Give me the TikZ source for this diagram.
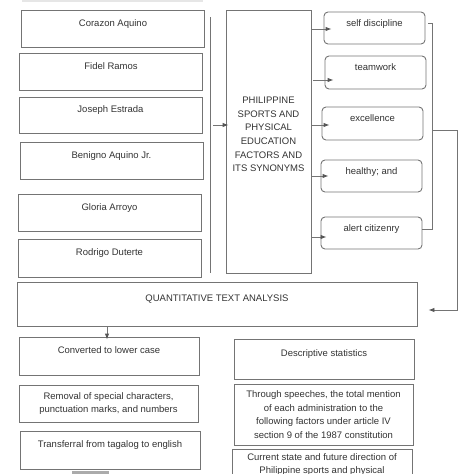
\documentclass[tikz,border=0pt]{standalone}
\usepackage{fontspec}
\setmainfont{Liberation Sans}
\usetikzlibrary{arrows.meta, positioning, calc}
\definecolor{lineGray}{HTML}{747474}
\definecolor{textGray}{HTML}{333333}
\definecolor{tipGray}{HTML}{555555}
\definecolor{barGray}{HTML}{E6E6E6}
\definecolor{stubGray}{HTML}{ABABAB}

\begin{document}
\begin{tikzpicture}[x=1pt, y=-1pt,
    box/.style={rectangle, draw=lineGray, line width=0.9pt, minimum width=#1,
                font=\fontsize{9.5}{13.6}\selectfont\color{textGray}, align=center, inner sep=2pt},
    box/.default=183pt,
    topbox/.style={box=#1, text height=7pt, text depth=11.4pt},
    topbox/.default=183pt,
    tag/.style={box=101pt, rounded corners=4pt, text height=7pt, text depth=10.4pt},
    arr/.style={draw=lineGray, line width=0.9pt, -{Latex[length=6pt, width=4.5pt, color=tipGray]}},
    ln/.style={draw=lineGray, line width=0.9pt},
  ]
    \useasboundingbox (0,0) rectangle (474,474);
    \clip (0,0) rectangle (474,474);

    \fill[barGray] (22,-3) rectangle (203,2);
    \fill[stubGray] (72,471) rectangle (109,480);

    \node[topbox, minimum height=37pt] (p1) at (113,28.5)   {Corazon Aquino};
    \node[topbox, minimum height=37pt] (p2) at (111,71.5)   {Fidel Ramos};
    \node[topbox, minimum height=36pt] (p3) at (110.5,115)  {Joseph Estrada};
    \node[topbox, minimum height=37pt] (p4) at (111.5,160.5) {Benigno Aquino Jr.};
    \node[topbox, minimum height=37pt] (p5) at (109.5,212.5) {Gloria Arroyo};
    \node[topbox, minimum height=38pt] (p6) at (109.5,258)  {Rodrigo Duterte};

    \node[box=85pt, minimum height=263pt, text depth=14pt] (fac) at (268.5,141.5)
      {PHILIPPINE\\SPORTS AND\\PHYSICAL\\EDUCATION\\FACTORS AND\\ITS SYNONYMS};

    \node[tag, minimum height=32pt] (t1) at (374.5,28)   {self discipline};
    \node[tag, minimum height=33pt] (t2) at (375.5,72.5) {teamwork};
    \node[tag, minimum height=33pt] (t3) at (372.5,123.5) {excellence};
    \node[tag, minimum height=32pt] (t4) at (371.5,176)  {healthy; and};
    \node[tag, minimum height=32pt] (t5) at (371.5,233)  {alert citizenry};

    \draw[ln] (210,17) -- (210,273);
    \coordinate (bar) at (210,125);
    \draw[arr] ($(bar)+(3,0)$) -- ($(fac.west |- bar)+(3,0)$);

    \coordinate (e1) at ($(t1.west)+(8,1)$);
    \coordinate (e2) at ($(t2.west)+(9,7.5)$);
    \coordinate (e3) at ($(t3.west)+(8,1.5)$);
    \coordinate (e4) at ($(t4.west)+(8,0)$);
    \coordinate (e5) at ($(t5.west)+(6,4)$);
    \draw[arr] (fac.east |- e1) -- (e1);
    \draw[arr] ($(fac.east |- e2)+(2,0)$) -- (e2);
    \draw[arr] (fac.east |- e3) -- (e3);
    \draw[arr] (fac.east |- e4) -- (e4);
    \draw[arr] (fac.east |- e5) -- (e5);

    \node[topbox=400pt, minimum height=44pt, text depth=12.4pt] (qta) at (217,304)
      {QUANTITATIVE TEXT ANALYSIS};

    \draw[ln] ($(t1.east)+(3,-5)$) -- ++(4,0) |- ($(t5.east)+(0,-4)$);
    \coordinate (join) at (432,130);
    \draw[arr] (join) -- ++(25,0) |- ($(qta.east)+(11,6)$);

    \node[topbox=180pt, minimum height=38pt] (b1) at (109,356) {Converted to lower case};
    \node[box=179pt, minimum height=37pt] (b2) at (108.5,403.5)
      {Removal of special characters,\\punctuation marks, and numbers};
    \node[topbox=180pt, minimum height=38pt] (b3) at (110,450) {Transferral from tagalog to english};

    \coordinate (e6) at ($(b1.north)+(-2,3)$);
    \draw[arr] (qta.south -| e6) -- (e6);

    \node[topbox=180pt, minimum height=40pt] (c1) at (324,359) {Descriptive statistics};
    \node[box=179pt, minimum height=61pt] (c2) at (323.5,414.5)
      {Through speeches, the total mention\\of each administration to the\\following factors under article IV\\section 9 of the 1987 constitution};
    \node[box=180pt, anchor=north, inner ysep=4pt] (c3) at (322,449)
      {Current state and future direction of\\Philippine sports and physical};
  \end{tikzpicture}
\end{document}
